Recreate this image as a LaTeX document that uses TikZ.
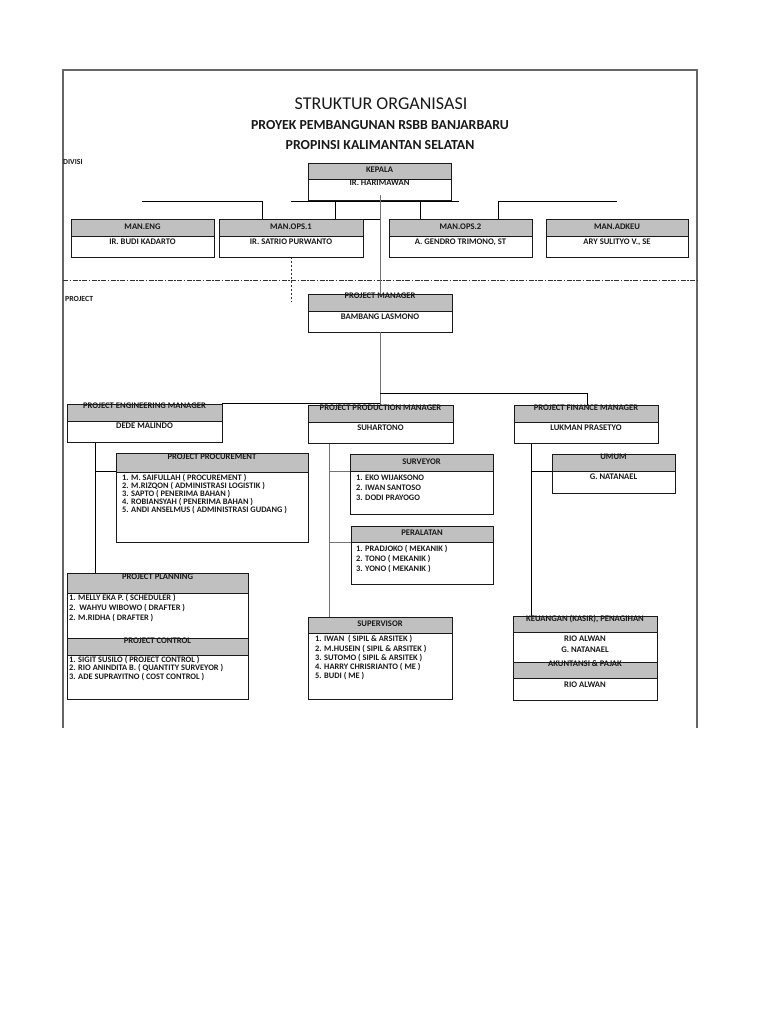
\documentclass[tikz,border=0pt]{standalone}
\usepackage{fontspec}
\setmainfont{Carlito}
\definecolor{headgray}{RGB}{192,192,192}
\definecolor{ink}{RGB}{25,25,25}
\newcommand\orgbox[6]{%
  \node[bodybox, minimum width={#4-#2}, minimum height={#6-#3}] (#1) at (#2,#3) {};
  \node[headbox, minimum width={#4-#2}, minimum height={#5-#3}] (#1-h) at (#2,#3) {};
}
\newcommand\orglist[5]{%
  \foreach \t [count=\i] in {#5} {\node[ltxt] (#1-\i) at (#2,{#3+(\i-1)*#4}) {\t};}
}
\begin{document}
\begin{tikzpicture}[x=1pt,y=-1pt,
  bodybox/.style={draw=ink, fill=white, line width=1pt, inner sep=0, anchor=north west},
  headbox/.style={draw=ink, fill=headgray, line width=1pt, inner sep=0, anchor=north west},
  htxt/.style={font=\fontsize{8.6}{9}\selectfont\bfseries, text=ink, inner sep=0, anchor=mid},
  ltxt/.style={font=\fontsize{8.4}{9}\selectfont\bfseries, text=ink, inner sep=0, anchor=mid west},
  conn/.style={draw=black, line width=0.9pt},
  gconn/.style={draw=black!55, line width=0.9pt},
  title/.style={inner sep=0, anchor=mid, text=ink}]
\useasboundingbox (0,0) rectangle (768,1024);
% frame
\draw[draw=black!60, line width=1.1pt] (63,728) -- (63,70) -- (697,70) -- (697,728);
% titles
\node[title, font=\fontsize{18}{20}\selectfont] (t1) at (381,107.5) {STRUKTUR ORGANISASI};
\node[title, font=\fontsize{13.8}{15}\selectfont\bfseries] (t2) at (380,127.5) {PROYEK PEMBANGUNAN RSBB BANJARBARU};
\node[title, font=\fontsize{13.8}{15}\selectfont\bfseries] (t3) at (380,147.5) {PROPINSI KALIMANTAN SELATAN};
\node[ltxt, font=\fontsize{7.8}{8}\selectfont\bfseries] (divisi) at (63,162.5) {DIVISI};
\node[ltxt, font=\fontsize{7.8}{8}\selectfont\bfseries] (project) at (65,299.5) {PROJECT};
% divisi connectors
\coordinate (cL) at (262,201);
\coordinate (cR) at (498,201);
\draw[conn] (142,201) -- (cL) -- (262,219) -- (380,219);
\draw[conn] (291,201) -- (459,201);
\draw[conn] (335,201) -- (335,219);
\draw[conn] (420,201) -- (420,219);
\draw[conn] (617,201) -- (cR) -- (498,219);
% separator
\draw[draw=black!80, line width=0.8pt, dash pattern=on 5pt off 1.5pt on 1.5pt off 1.5pt] (63,280) -- (697,280);
\draw[draw=black!80, line width=0.8pt, dash pattern=on 2pt off 2pt] (291,257) -- (291,302);
% boxes
\orgbox{kep}{308}{163}{451}{179}{200}
\orgbox{meng}{71}{219}{214}{236}{257}
\orgbox{ops1}{219}{219}{363}{236}{257}
\orgbox{ops2}{389}{219}{532}{236}{257}
\orgbox{adk}{546}{219}{688}{236}{257}
\draw[gconn] (380,195) -- (380,294);
\orgbox{pm}{308}{294}{452}{311}{332}
% project connectors
\draw[gconn] (380,332) -- (380,405);
\draw[conn] (380,393) -- (587,393) -- (587,405);
\draw[conn] (222,403) -- (380,403);
\draw[conn] (95,442) -- (95,573);
\draw[conn] (95,471) -- (116,471);
\draw[gconn] (329,443) -- (329,617);
\draw[gconn] (329,471) -- (350,471);
\draw[gconn] (329,542) -- (351,542);
\draw[conn] (531,443) -- (531,616);
\draw[conn] (531,471) -- (552,471);
\orgbox{pem}{67}{404}{222}{421}{442}
\orgbox{ppm}{308}{405}{453}{422}{443}
\orgbox{pfm}{514}{405}{658}{422}{443}
\orgbox{proc}{116}{453}{308}{472}{542}
\orgbox{surv}{350}{454}{493}{471}{514}
\orgbox{peral}{351}{526}{493}{542}{584}
\orgbox{umum}{552}{454}{675}{471}{493}
\orgbox{pp}{67}{573}{248}{593}{638}
\orgbox{pc}{67}{638}{248}{655}{699}
\orgbox{sup}{308}{617}{452}{633}{699}
\orgbox{keu}{513}{616}{657}{632}{662}
\orgbox{aku}{513}{662}{657}{678}{700}
% header texts
\node[htxt] (kep-ht) at (379.5,170.5) {KEPALA};
\node[htxt] (meng-ht) at (142.5,227) {MAN.ENG};
\node[htxt] (ops1-ht) at (291,227) {MAN.OPS.1};
\node[htxt] (ops2-ht) at (460.5,227) {MAN.OPS.2};
\node[htxt] (adk-ht) at (617,227) {MAN.ADKEU};
\node[htxt] (pm-ht) at (380,296.5) {PROJECT MANAGER};
\node[htxt] (pem-ht) at (144.5,406.5) {PROJECT ENGINEERING MANAGER};
\node[htxt] (ppm-ht) at (380.5,408) {PROJECT PRODUCTION MANAGER};
\node[htxt] (pfm-ht) at (586,408) {PROJECT FINANCE MANAGER};
\node[htxt] (proc-ht) at (212,457) {PROJECT PROCUREMENT};
\node[htxt] (surv-ht) at (421.5,462) {SURVEYOR};
\node[htxt] (peral-ht) at (422,533.5) {PERALATAN};
\node[htxt] (umum-ht) at (613.5,457.5) {UMUM};
\node[htxt] (pp-ht) at (157.5,577.5) {PROJECT PLANNING};
\node[htxt] (pc-ht) at (157.5,641.5) {PROJECT CONTROL};
\node[htxt] (sup-ht) at (380,624) {SUPERVISOR};
\node[htxt] (keu-ht) at (585,619.5) {KEUANGAN (KASIR), PENAGIHAN};
\node[htxt] (aku-ht) at (585,664.5) {AKUNTANSI \& PAJAK};
% body texts
\node[htxt] (kep-bt) at (379.5,183.5) {IR. HARIMAWAN};
\node[htxt] (meng-bt) at (142.5,242.5) {IR. BUDI KADARTO};
\node[htxt] (ops1-bt) at (291,242.5) {IR. SATRIO PURWANTO};
\node[htxt] (ops2-bt) at (460.5,242.5) {A. GENDRO TRIMONO, ST};
\node[htxt] (adk-bt) at (617,242.5) {ARY SULITYO V., SE};
\node[htxt] (pm-bt) at (380,317) {BAMBANG LASMONO};
\node[htxt] (pem-bt) at (144.5,426) {DEDE MALINDO};
\node[htxt] (ppm-bt) at (380.5,428.5) {SUHARTONO};
\node[htxt] (pfm-bt) at (586,428.5) {LUKMAN PRASETYO};
\node[htxt] (umum-bt) at (613.5,477.5) {G. NATANAEL};
\node[htxt] (keu-bt1) at (585,639.5) {RIO ALWAN};
\node[htxt] (keu-bt2) at (585,650) {G. NATANAEL};
\node[htxt] (aku-bt) at (585,685) {RIO ALWAN};
% lists
\orglist{procl}{122}{478}{8}{{1. M. SAIFULLAH ( PROCUREMENT )},{2. M.RIZQON ( ADMINISTRASI LOGISTIK )},{3. SAPTO ( PENERIMA BAHAN )},{4. ROBIANSYAH ( PENERIMA BAHAN )},{5. ANDI ANSELMUS ( ADMINISTRASI GUDANG )}}
\orglist{survl}{356}{478.5}{9.7}{{1. EKO WIJAKSONO},{2. IWAN SANTOSO},{3. DODI PRAYOGO}}
\orglist{perall}{356}{549.5}{10}{{1. PRADJOKO ( MEKANIK )},{2. TONO ( MEKANIK )},{3. YONO ( MEKANIK )}}
\orglist{ppl}{69}{598.5}{10}{{1. MELLY EKA P. ( SCHEDULER )},{2.\ \ WAHYU WIBOWO ( DRAFTER )},{2. M.RIDHA ( DRAFTER )}}
\orglist{pcl}{69}{660}{8.4}{{1. SIGIT SUSILO ( PROJECT CONTROL )},{2. RIO ANINDITA B. ( QUANTITY SURVEYOR )},{3. ADE SUPRAYITNO ( COST CONTROL )}}
\orglist{supl}{315}{639.5}{9.2}{{1. IWAN\ \ ( SIPIL \& ARSITEK )},{2. M.HUSEIN ( SIPIL \& ARSITEK )},{3. SUTOMO ( SIPIL \& ARSITEK )},{4. HARRY CHRISRIANTO ( ME )},{5. BUDI ( ME )}}
\end{tikzpicture}
\end{document}
